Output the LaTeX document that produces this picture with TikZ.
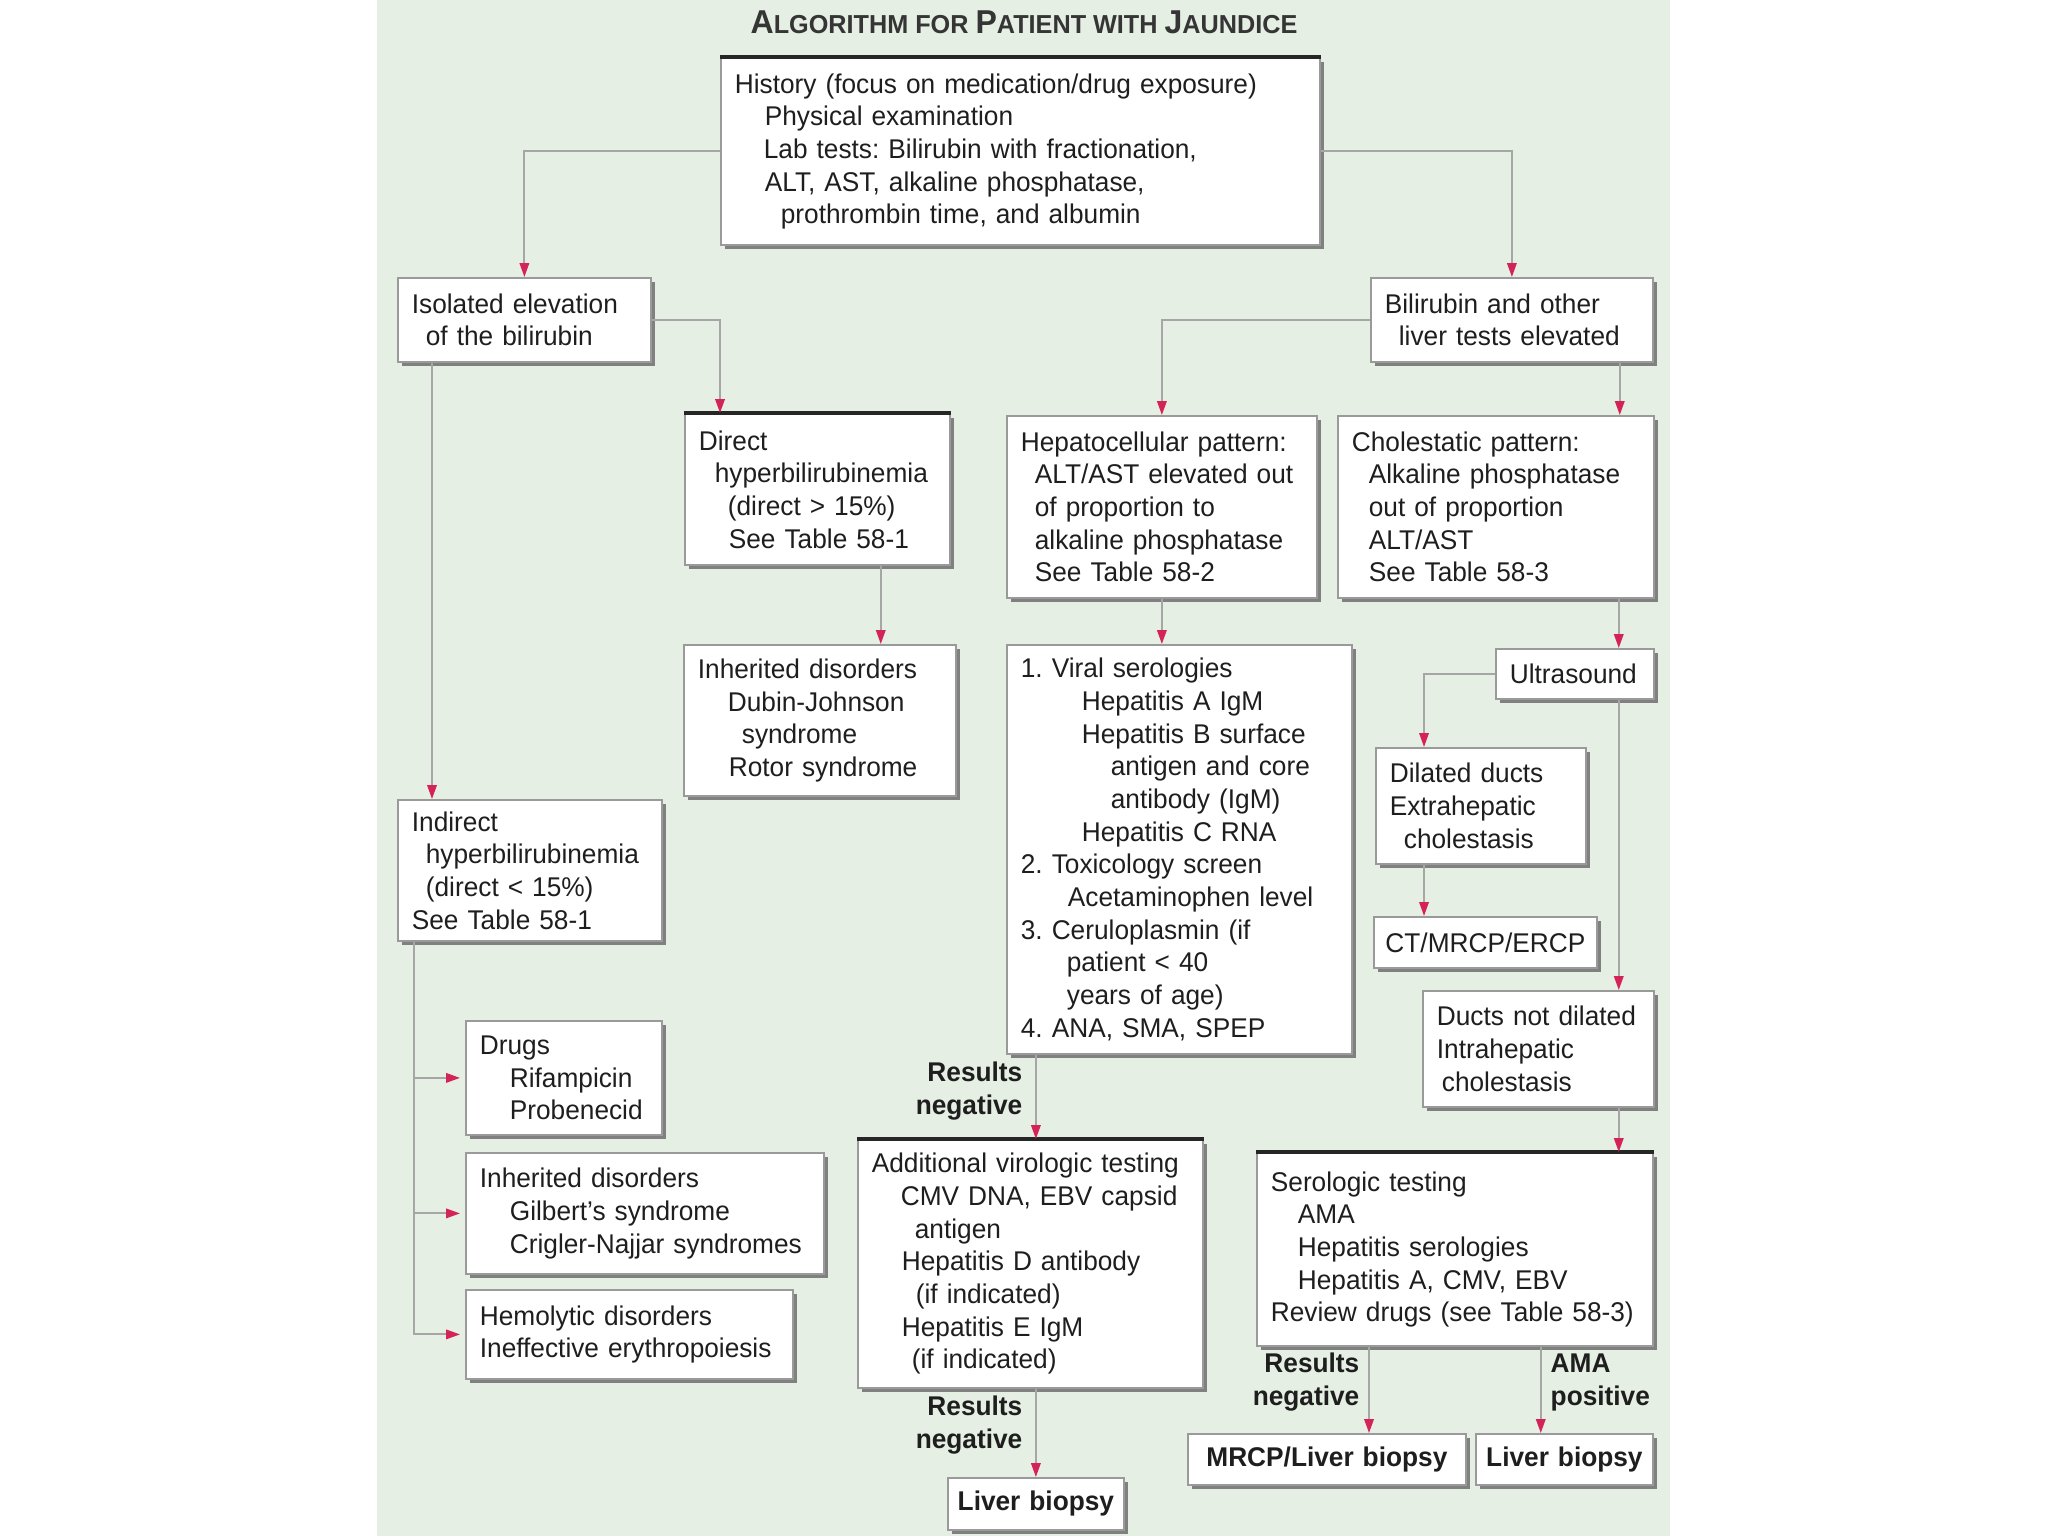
\documentclass[tikz,border=0pt]{standalone}
\usepackage{fontspec}
\setmainfont[FakeStretch=0.97]{Liberation Sans}
\usetikzlibrary{positioning,calc,arrows.meta,shadows}
\definecolor{panel}{HTML}{E6EFE4}
\definecolor{wire}{HTML}{A6A6A6}
\definecolor{frame}{HTML}{9A9A9A}
\definecolor{tip}{HTML}{D42358}
\definecolor{ink}{HTML}{1E1E1E}
\newcommand{\indentby}[1]{\hspace*{#1mm}}
\newcommand{\titlecap}[1]{{\fontsize{9.4}{10}\selectfont #1}}
\frenchspacing

\begin{document}
\begin{tikzpicture}[x=0.1mm,y=-0.1mm,
      box/.style={draw=frame,fill=white,line width=0.5pt,align=left,anchor=north west,
                  inner xsep=1.4mm,inner ysep=0.5mm,text=ink,
                  font=\fontsize{7.7}{9.3}\selectfont,
                  execute at begin node={\hyphenpenalty=10000 \exhyphenpenalty=10000 },
                  drop shadow={shadow xshift=0.45mm,shadow yshift=-0.45mm,fill=black!50,opacity=1}},
      endbox/.style={box,align=center,inner xsep=0.5mm,font=\fontsize{7.7}{9.3}\selectfont\bfseries},
      dims/.style 2 args={text width=#1mm,minimum height=#2mm},
      note/.style={inner sep=0pt,text=ink,font=\fontsize{7.7}{9.4}\selectfont\bfseries},
      topedge/.style={draw=black!85,line width=1pt},
      arr/.style={draw=wire,line width=0.55pt,-{Triangle[length=1.4mm,width=0.95mm,color=tip]}}]
    \useasboundingbox (0,0) rectangle (2048,1536);
    \fill[white] (0,0) rectangle (2048,1536);
    \fill[panel] (377,0) rectangle (1670,1536);

    \node[text=ink!90,inner sep=0pt,font=\fontsize{7.4}{9}\selectfont\bfseries] (title) at (1024,22)
      {\titlecap{A}LGORITHM FOR \titlecap{P}ATIENT WITH \titlecap{J}AUNDICE};

    % first level
    \node[box,dims={57.1}{18.7}] (hist) at (720,57) {History (focus on medication/drug exposure)\\
      \indentby{3.0}Physical examination\\
      \indentby{2.9}Lab tests: Bilirubin with fractionation,\\
      \indentby{3.0}ALT, AST, alkaline phosphatase,\\
      \indentby{4.6}prothrombin time, and albumin};
    \node[box,dims={22.5}{8.4}] (isol) at (397,277) {Isolated elevation\\\indentby{1.4}of the bilirubin};
    \node[box,dims={25.4}{8.4}] (bili) at (1370,277) {Bilirubin and other\\\indentby{1.4}liver tests elevated};

    % patterns
    \node[box,dims={23.7}{15.1}] (dir) at (684,413) {Direct\\\indentby{1.6}hyperbilirubinemia\\
      \indentby{2.9}(direct > 15\%)\\\indentby{3.0}See Table 58-1};
    \node[box,dims={28.2}{18.2}] (hep) at (1006,415) {Hepatocellular pattern:\\
      \indentby{1.4}ALT/AST elevated out\\\indentby{1.4}of proportion to\\
      \indentby{1.4}alkaline phosphatase\\\indentby{1.4}See Table 58-2};
    \node[box,dims={28.8}{18.2}] (chol) at (1337,415) {Cholestatic pattern:\\
      \indentby{1.7}Alkaline phosphatase\\\indentby{1.7}out of proportion\\
      \indentby{1.7}ALT/AST\\\indentby{1.7}See Table 58-3};
    \node[box,dims={24.4}{15.1}] (inh) at (683,644) {Inherited disorders\\\indentby{3.0}Dubin-Johnson\\
      \indentby{4.4}syndrome\\\indentby{3.1}Rotor syndrome};
    \node[box,dims={31.7}{40.9}] (vir) at (1006,644) {1. Viral serologies\\
      \indentby{6.1}Hepatitis A IgM\\\indentby{6.1}Hepatitis B surface\\
      \indentby{9.0}antigen and core\\\indentby{9.0}antibody (IgM)\\
      \indentby{6.1}Hepatitis C RNA\\2. Toxicology screen\\
      \indentby{4.7}Acetaminophen level\\3. Ceruloplasmin (if\\
      \indentby{4.6}patient < 40\\\indentby{4.6}years of age)\\4. ANA, SMA, SPEP};
    \node[box,dims={13.0}{5.0}] (us) at (1495,648) {Ultrasound};
    \node[box,dims={18.2}{11.6}] (dil) at (1375,747) {Dilated ducts\\Extrahepatic\\\indentby{1.4}cholestasis};
    \node[box,align=center,inner xsep=0.6mm,dims={21.1}{5.1}] (ct) at (1373,916) {CT/MRCP/ERCP};
    \node[box,dims={20.3}{11.6}] (nd) at (1422,990) {Ducts not dilated\\Intrahepatic\\\indentby{0.5}cholestasis};

    % indirect branch
    \node[box,dims={23.6}{14.1}] (ind) at (397,799) {Indirect\\\indentby{1.4}hyperbilirubinemia\\
      \indentby{1.4}(direct < 15\%)\\See Table 58-1};
    \node[box,dims={16.8}{11.4}] (drg) at (465,1020) {Drugs\\\indentby{3.0}Rifampicin\\\indentby{3.0}Probenecid};
    \node[box,dims={33.0}{12.1}] (inh2) at (465,1152) {Inherited disorders\\
      \indentby{3.0}Gilbert's syndrome\\\indentby{3.0}Crigler-Najjar syndromes};
    \node[box,dims={29.9}{8.9}] (hem) at (465,1289) {Hemolytic disorders\\Ineffective erythropoiesis};

    % further testing
    \node[box,dims={31.7}{24.8}] (add) at (857,1139) {Additional virologic testing\\
      \indentby{2.9}CMV DNA, EBV capsid\\\indentby{4.3}antigen\\
      \indentby{3.0}Hepatitis D antibody\\\indentby{4.4}(if indicated)\\
      \indentby{3.0}Hepatitis E IgM\\\indentby{4.0}(if indicated)};
    \node[box,dims={36.8}{19.3}] (sero) at (1256,1152) {Serologic testing\\
      \indentby{2.7}AMA\\\indentby{2.7}Hepatitis serologies\\
      \indentby{2.7}Hepatitis A, CMV, EBV\\Review drugs (see Table 58-3)};
    \node[endbox,dims={16.6}{5.2}] (lb1) at (947,1477) {Liver biopsy};
    \node[endbox,dims={26.8}{5.1}] (mrcp) at (1187,1433) {MRCP/Liver biopsy};
    \node[endbox,dims={16.7}{5.1}] (lb2) at (1475,1433) {Liver biopsy};

    \draw[topedge] (hist.north west) -- (hist.north east);
    \draw[topedge] (dir.north west) -- (dir.north east);
    \draw[topedge] (add.north west) -- (add.north east);
    \draw[topedge] (sero.north west) -- (sero.north east);

    % labels
    \node[note,align=right,anchor=east] (neg1) at (1023,1091) {Results\\negative};
    \node[note,align=right,anchor=east] (neg2) at (1023,1425) {Results\\negative};
    \node[note,align=right,anchor=east] (neg3) at (1360,1382) {Results\\negative};
    \node[note,align=left,anchor=west] (amapos) at (1550,1382) {AMA\\positive};

    % connectors
    \draw[arr] (hist.west) -| (isol.north);
    \draw[arr] (hist.east) -| (bili.north);
    \coordinate (dirin) at ([xshift=3.6mm]dir.north west);
    \draw[arr] (isol.east) -| (dirin);
    \coordinate (isolout) at ([xshift=3.5mm]isol.south west);
    \draw[arr] (isolout) -- (isolout |- ind.north);
    \draw[arr] (bili.west) -| (hep.north);
    \coordinate (biliout) at ([xshift=-3.4mm]bili.south east);
    \draw[arr] (biliout) -- (biliout |- chol.north);
    \coordinate (dirout) at ([xshift=-7mm]dir.south east);
    \draw[arr] (dirout) -- (dirout |- inh.north);
    \draw[arr] (hep.south) -- (hep.south |- vir.north);
    \coordinate (cholout) at ([xshift=-3.6mm]chol.south east);
    \draw[arr] (cholout) -- (cholout |- us.north);
    \coordinate (dilin) at ([xshift=4.9mm]dil.north west);
    \draw[arr] (us.west) -| (dilin);
    \draw[arr] (dil.south -| dilin) -- (ct.north -| dilin);
    \coordinate (usout) at ([xshift=-3.6mm]us.south east);
    \draw[arr] (usout) -- (usout |- nd.north);
    \coordinate (ndout) at ([xshift=-3.6mm]nd.south east);
    \draw[arr] (ndout) -- (ndout |- sero.north);
    \coordinate (indout) at ([xshift=1.7mm]ind.south west);
    \draw[arr,shorten >=0.5mm] (indout) |- (hem.west);
    \foreach \b in {drg,inh2}
      \draw[arr,shorten >=0.5mm] (indout |- \b.west) -- (\b.west);
    \draw[arr] (vir.south -| lb1.north) -- (add.north -| lb1.north);
    \draw[arr] (add.south -| lb1.north) -- (lb1.north);
    \coordinate (serol) at ([xshift=11.3mm]sero.south west);
    \draw[arr] (serol) -- (serol |- mrcp.north);
    \coordinate (seror) at ([xshift=-11.3mm]sero.south east);
    \draw[arr] (seror) -- (seror |- lb2.north);
  \end{tikzpicture}
\end{document}
